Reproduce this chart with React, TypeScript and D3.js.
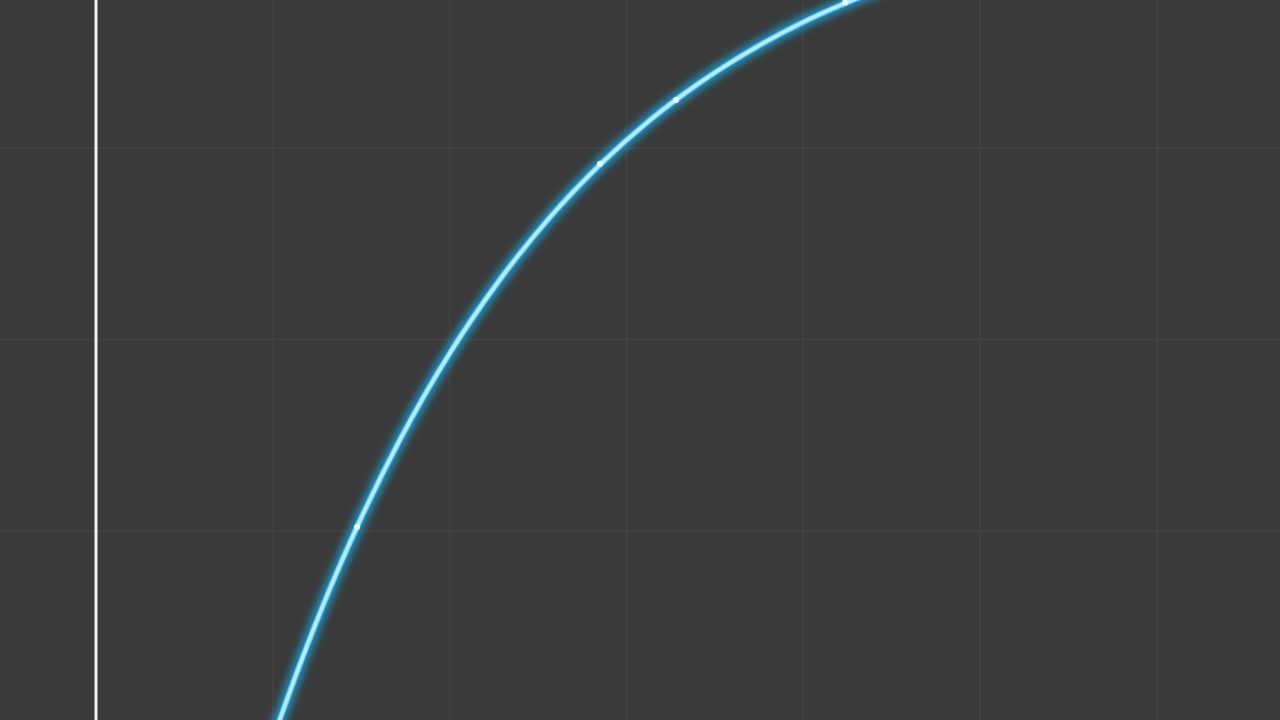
// App.tsx
import { useEffect, useRef } from "react";
import * as d3 from "d3";

// curve (x in grid units from the white axis, y in grid units)
const curveX = [0.995, 1.154, 1.323, 1.476, 1.719, 2.002, 2.285, 2.568, 2.85, 3.133, 3.416, 3.699, 3.981, 4.247, 4.434];
const curveY = [-1.099, -0.695, -0.301, 0.021, 0.477, 0.931, 1.314, 1.639, 1.913, 2.146, 2.342, 2.508, 2.649, 2.76, 2.829];

// highlighted sample points on the curve
const pointX = [1.476, 2.85, 3.28, 4.236];
const pointY = [0.021, 1.918, 2.251, 2.76];

const xTicks = [1, 2, 3, 4, 5, 6];
const yTicks = [0, 1, 2];

const width = 1280;
const height = 720;

const App = () => {
  const svgRef = useRef<SVGSVGElement | null>(null);

  useEffect(() => {
    if (!svgRef.current) return;
    const svg = d3.select(svgRef.current);
    svg.selectAll("*").remove();

    const x = d3.scaleLinear().domain([0, 6]).range([96, 1157]);
    const y = d3.scaleLinear().domain([0, 2]).range([531, 148]);

    const defs = svg.append("defs");
    const glow = defs
      .append("filter")
      .attr("id", "glow")
      .attr("x", "-20%")
      .attr("y", "-20%")
      .attr("width", "140%")
      .attr("height", "140%");
    glow.append("feGaussianBlur").attr("stdDeviation", 4.5);

    svg
      .append("rect")
      .attr("width", width)
      .attr("height", height)
      .attr("fill", "#3a3a3a");

    const grid = svg.append("g").attr("stroke", "#444444").attr("stroke-width", 1.5);
    grid
      .selectAll("line.v")
      .data(xTicks)
      .join("line")
      .attr("class", "v")
      .attr("x1", (d) => x(d))
      .attr("x2", (d) => x(d))
      .attr("y1", 0)
      .attr("y2", height);
    grid
      .selectAll("line.h")
      .data(yTicks)
      .join("line")
      .attr("class", "h")
      .attr("x1", 0)
      .attr("x2", width)
      .attr("y1", (d) => y(d))
      .attr("y2", (d) => y(d));

    // white vertical axis at x = 0
    svg
      .append("line")
      .attr("x1", x(0))
      .attr("x2", x(0))
      .attr("y1", 0)
      .attr("y2", height)
      .attr("stroke", "#f2f2f2")
      .attr("stroke-width", 3);

    const data = curveX.map((v, i) => [v, curveY[i]] as [number, number]);
    const line = d3
      .line<[number, number]>()
      .x((d) => x(d[0]))
      .y((d) => y(d[1]))
      .curve(d3.curveMonotoneX);

    svg
      .append("path")
      .datum(data)
      .attr("fill", "none")
      .attr("stroke", "#1e9fd6")
      .attr("stroke-width", 12)
      .attr("stroke-opacity", 0.9)
      .attr("filter", "url(#glow)")
      .attr("d", line);

    svg
      .append("path")
      .datum(data)
      .attr("fill", "none")
      .attr("stroke", "#4cc4ee")
      .attr("stroke-width", 6)
      .attr("d", line);

    svg
      .append("path")
      .datum(data)
      .attr("fill", "none")
      .attr("stroke", "#b8ecfc")
      .attr("stroke-width", 3.5)
      .attr("d", line);

    svg
      .append("g")
      .selectAll("circle")
      .data(pointX.map((v, i) => [v, pointY[i]]))
      .join("circle")
      .attr("cx", (d) => x(d[0]))
      .attr("cy", (d) => y(d[1]))
      .attr("r", 3)
      .attr("fill", "#e6fbff");
  }, []);

  return (
    <div style={{ position: "fixed", left: 0, top: 0, width, height, background: "#3a3a3a" }}>
      <svg ref={svgRef} width={width} height={height} style={{ display: "block" }} />
    </div>
  );
};

export default App;
